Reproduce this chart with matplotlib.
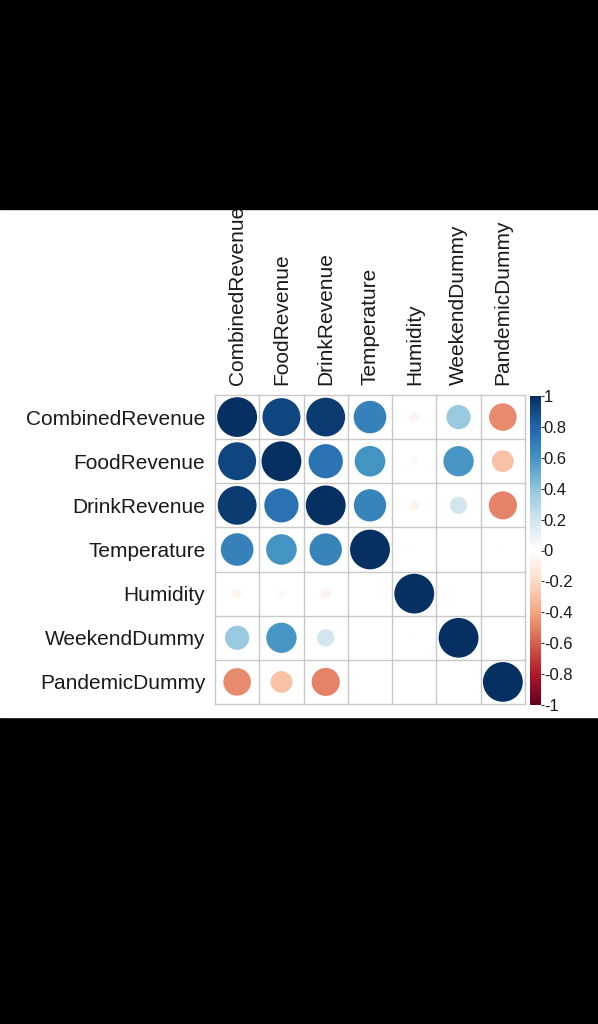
import numpy as np
import matplotlib
matplotlib.use("Agg")
import matplotlib.pyplot as plt
from matplotlib.patches import Circle, Rectangle
from matplotlib.colors import LinearSegmentedColormap, Normalize
from matplotlib.cm import ScalarMappable

plt.rcParams['font.family'] = ['Liberation Sans', 'DejaVu Sans']
plt.rcParams['axes.unicode_minus'] = False

# variables (rows top to bottom, columns left to right)
labels = ["CombinedRevenue", "FoodRevenue", "DrinkRevenue", "Temperature",
          "Humidity", "WeekendDummy", "PandemicDummy"]

# correlation matrix
row_combined = [1.00, 0.91, 0.95, 0.67, -0.06, 0.37, -0.48]
row_food     = [0.91, 1.00, 0.74, 0.59, -0.04, 0.58, -0.30]
row_drink    = [0.95, 0.74, 1.00, 0.66, -0.07, 0.19, -0.50]
row_temp     = [0.67, 0.59, 0.66, 1.00, -0.01, 0.00, -0.01]
row_humid    = [-0.06, -0.04, -0.07, -0.01, 1.00, -0.01, 0.00]
row_weekend  = [0.37, 0.58, 0.19, 0.00, -0.01, 1.00, 0.00]
row_pandemic = [-0.48, -0.30, -0.50, -0.01, 0.00, 0.00, 1.00]

cbar_ticks = [-1, -0.8, -0.6, -0.4, -0.2, 0, 0.2, 0.4, 0.6, 0.8, 1]
cbar_labels = ["-1", "-0.8", "-0.6", "-0.4", "-0.2", "0",
               "0.2", "0.4", "0.6", "0.8", "1"]

corr = np.array([row_combined, row_food, row_drink, row_temp,
                 row_humid, row_weekend, row_pandemic])
n = len(labels)

# corrplot's default RdBu palette
rdbu = ["#67001F", "#B2182B", "#D6604D", "#F4A582", "#FDDBC7", "#FFFFFF",
        "#D1E5F0", "#92C5DE", "#4393C3", "#2166AC", "#053061"]
cmap = LinearSegmentedColormap.from_list("corrRdBu", rdbu, N=200)
norm = Normalize(-1, 1)

W, H = 598, 1024
fig = plt.figure(figsize=(W / 100, H / 100), dpi=100, facecolor="black")

def fx(px):
    return px / W

def fy(py):
    return 1 - py / H

# white photo area
fig.add_artist(Rectangle((0, fy(717)), 1, (717 - 209) / H,
                         transform=fig.transFigure, color="white", zorder=-1))

# main grid
ax = fig.add_axes([fx(215), fy(704), fx(525) - fx(215), fy(395) - fy(704)])
ax.set_facecolor("white")
ax.set_xlim(-0.5, n - 0.5)
ax.set_ylim(n - 0.5, -0.5)
for s in ax.spines.values():
    s.set_visible(False)

for k in range(n + 1):
    ax.axhline(k - 0.5, color="#C8C8C8", lw=1.0, zorder=1, clip_on=False)
    ax.axvline(k - 0.5, color="#C8C8C8", lw=1.0, zorder=1, clip_on=False)

for i in range(n):
    for j in range(n):
        r = corr[i, j]
        rad = 0.45 * np.sqrt(abs(r))
        if rad <= 0:
            continue
        ax.add_patch(Circle((j, i), rad, facecolor=cmap(norm(r)),
                            edgecolor="none", zorder=2))

ax.set_xticks(range(n))
ax.set_xticklabels(labels, rotation=90, fontsize=15, color="#1a1a1a")
ax.xaxis.tick_top()
ax.set_yticks(range(n))
ax.set_yticklabels(labels, fontsize=15, color="#1a1a1a")
ax.tick_params(axis="both", length=0, pad=7)

# colour legend
cax = fig.add_axes([fx(530), fy(705), fx(541) - fx(530), fy(396) - fy(705)])
cb = fig.colorbar(ScalarMappable(norm=norm, cmap=cmap), cax=cax)
cb.outline.set_visible(False)
cb.set_ticks(cbar_ticks)
cb.set_ticklabels(cbar_labels)
cax.tick_params(length=2, width=0.8, pad=0, labelsize=12,
                colors="#333333", labelcolor="#1a1a1a")

# black band covering the clipped top of the labels
fig.add_artist(Rectangle((0, fy(209)), 1, 209 / H, transform=fig.transFigure,
                         color="black", zorder=10))

fig.savefig("out.png", dpi=100, facecolor="black")
